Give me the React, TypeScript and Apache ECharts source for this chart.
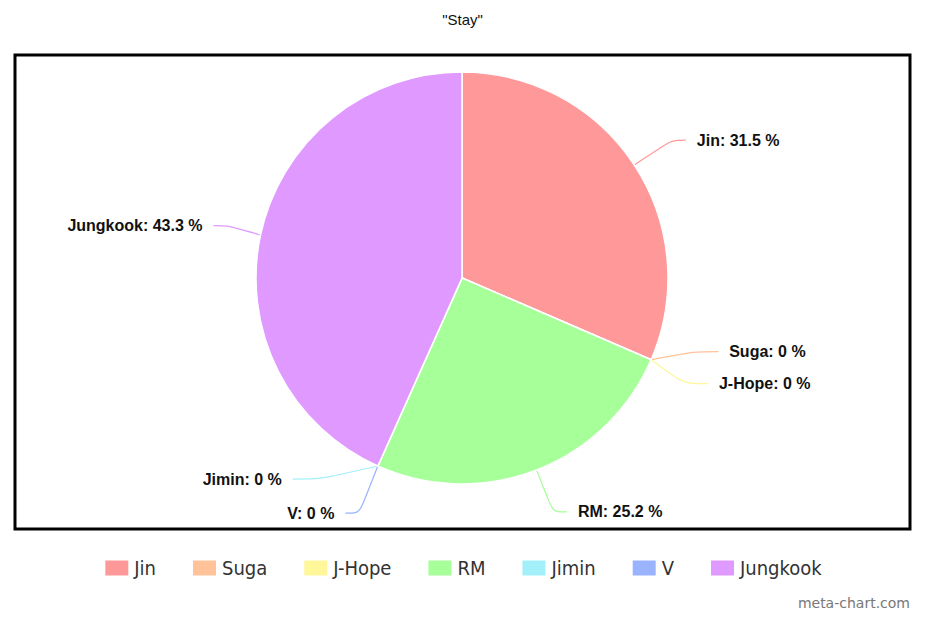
import React, { useEffect, useRef } from "react";
import * as echarts from "echarts";

const categories = ["Jin", "Suga", "J-Hope", "RM", "Jimin", "V", "Jungkook"];
const values = [31.5, 0, 0, 25.2, 0, 0, 43.3];
const colors = ["#FF9999", "#FFC299", "#FFF799", "#A6FF99", "#A3F0FA", "#99B3FF", "#DF99FF"];
const title = '"Stay"';
// nudges for the stacked zero-value labels
const labelNudgeX = [0, 22, 20, 0, -25, 0, 0];
const labelNudgeY = [0, -26, -12, 0, -28, -12, 0];

export default function App() {
  const ref = useRef<HTMLDivElement>(null);
  useEffect(() => {
    document.body.style.margin = "0";
    const chart = echarts.init(ref.current!, null, { renderer: "svg" });
    chart.setOption({
      animation: false,
      backgroundColor: "#ffffff",
      color: colors,
      title: {
        text: title,
        left: "center",
        top: 7,
        textStyle: { fontFamily: "Liberation Sans", fontSize: 15, fontWeight: "normal", color: "#111" },
      },
      graphic: [
        {
          type: "rect",
          shape: { x: 15, y: 55, width: 895, height: 474 },
          style: { fill: "none", stroke: "#000", lineWidth: 3 },
          silent: true,
        },
        {
          type: "text",
          right: 15,
          top: 596,
          style: { text: "meta-chart.com", fontFamily: "DejaVu Sans", fontSize: 14, fill: "#777" },
        },
      ],
      legend: {
        bottom: 34,
        left: "center",
        itemWidth: 25,
        itemHeight: 17,
        itemGap: 35,
        icon: "rect",
        textStyle: { fontFamily: "DejaVu Sans Condensed", fontSize: 20, color: "#333" },
        data: categories,
      },
      series: [
        {
          type: "pie",
          center: [462, 278],
          radius: 206,
          startAngle: 90,
          clockwise: true,
          data: categories.map((c, i) => ({ name: c, value: values[i] })),
          itemStyle: { borderColor: "#fff", borderWidth: 1.5 },
          label: {
            show: true,
            formatter: (p: any) => `${p.name}: ${p.value} %`,
            fontFamily: "Liberation Sans",
            fontWeight: "bold",
            fontSize: 16,
            color: "#111",
            distanceToLabelLine: 11,
          },
          labelLayout: (p: any) => {
            const dx = labelNudgeX[p.dataIndex] || 0;
            const dy = labelNudgeY[p.dataIndex] || 0;
            if (!dx && !dy) return {};
            const pts = p.labelLinePoints;
            if (!pts || pts.length < 3) return { dx, dy };
            return {
              dx,
              dy,
              labelLinePoints: [
                [pts[0][0], pts[0][1]],
                [pts[1][0] + dx * 0.5, pts[1][1] + dy],
                [pts[2][0] + dx, pts[2][1] + dy],
              ],
            };
          },
          labelLine: { show: true, length: 45, length2: 14, smooth: true, lineStyle: { width: 1.2 } },
          emphasis: { disabled: true },
        },
      ],
    });
    return () => chart.dispose();
  }, []);
  return <div ref={ref} style={{ width: 925, height: 617 }} />;
}
